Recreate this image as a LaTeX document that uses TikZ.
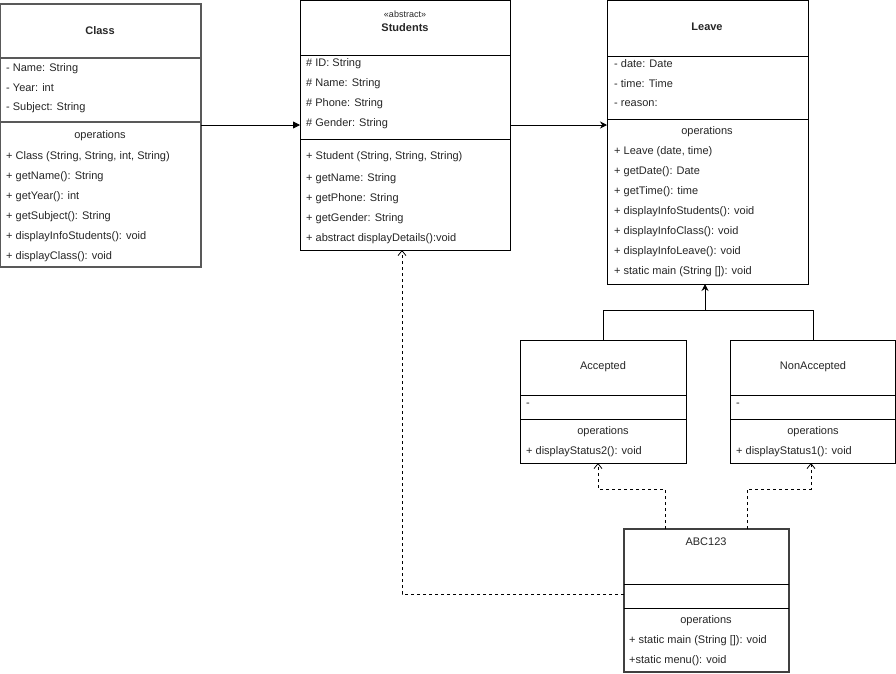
\documentclass[tikz,border=0pt]{standalone}
\usepackage{fontspec}
\setmainfont{Liberation Sans}
\usetikzlibrary{arrows.meta}
\begin{document}
\begin{tikzpicture}[x=1pt,y=-1pt,
  box/.style={draw=black,line width=0.8pt,fill=white},
  t/.style={anchor=west,inner sep=0pt,font=\fontsize{11}{13}\selectfont,text=black!85},
  c/.style={anchor=center,inner sep=0pt,font=\fontsize{11}{13}\selectfont,text=black!85},
  b/.style={c,font=\fontsize{11}{13}\selectfont\bfseries},
  ln/.style={line width=0.8pt,black},
  dsh/.style={ln,dash pattern=on 3pt off 3pt}]
\useasboundingbox (0,0) rectangle (896,673);
% Class
\draw[box,draw=black!65,line width=1.2pt] (0.6,4) rectangle (201,267);
\draw[draw=black!65,line width=1.2pt] (0.6,58)--(201,58) (0.6,122)--(201,122);
\node[b] (cT) at (100,31) {Class};
\node[t] (c1) at (6,69) {- Name: String};
\node[t] (c2) at (6,88) {- Year: int};
\node[t] (c3) at (6,108) {- Subject: String};
\node[c] (cO) at (100,136) {operations};
\foreach \y/\s [count=\i] in {157/{+ Class (String, String, int, String)},177/{+ getName(): String},197/{+ getYear(): int},217/{+ getSubject(): String},237/{+ displayInfoStudents(): void},257/{+ displayClass(): void}}
  \node[t] (co\i) at (6,\y) {\s};
\coordinate (cR) at (201,125);
% Students
\draw[box] (300,0.6) rectangle (510,250);
\draw[ln] (300,55)--(510,55) (300,139)--(510,139);
\node[c,font=\fontsize{9}{11}\selectfont] (sS) at (405,14) {<<abstract>>};
\node[b] (sT) at (405,28) {Students};
\foreach \y/\s [count=\i] in {64/{\# ID: String},84/{\# Name: String},104/{\# Phone: String},124/{\# Gender: String},157/{+ Student (String, String, String)},179/{+ getName: String},199/{+ getPhone: String},219/{+ getGender: String},239/{+ abstract displayDetails():void}}
  \node[t] (s\i) at (306,\y) {\s};
\coordinate (sL) at (300,125);
\coordinate (sR) at (510,125);
\coordinate (sB) at (402,250);
% Leave
\draw[box] (607,0.6) rectangle (808,284);
\draw[ln] (607,56)--(808,56) (607,119)--(808,119);
\node[b] (lT) at (707,27) {Leave};
\node[c] (lO) at (707,132) {operations};
\foreach \y/\s [count=\i] in {64/{- date: Date},84/{- time: Time},104/{- reason:},152/{+ Leave (date, time)},172/{+ getDate(): Date},192/{+ getTime(): time},212/{+ displayInfoStudents(): void},232/{+ displayInfoClass(): void},252/{+ displayInfoLeave(): void},272/{+ static main (String []): void}}
  \node[t] (l\i) at (614,\y) {\s};
\coordinate (lL) at (607,125);
\coordinate (lB) at (705,284);
% Accepted
\draw[box] (520,340) rectangle (686,463);
\draw[ln] (520,395)--(686,395) (520,419)--(686,419);
\node[c] (aT) at (603,367) {Accepted};
\node[t] (a1) at (526,405) {-};
\node[c] (aO) at (603,432) {operations};
\node[t] (a2) at (526,452) {+ displayStatus2(): void};
% NonAccepted
\draw[box] (730,340) rectangle (895.4,463);
\draw[ln] (730,395)--(895.4,395) (730,419)--(895.4,419);
\node[c] (nT) at (813,367) {NonAccepted};
\node[t] (n1) at (736,405) {-};
\node[c] (nO) at (813,432) {operations};
\node[t] (n2) at (736,452) {+ displayStatus1(): void};
% ABC123
\draw[box,draw=black!75,line width=1.1pt] (624,529) rectangle (789,672);
\draw[ln] (624,584)--(789,584) (624,608)--(789,608);
\node[c] (xT) at (706,542) {ABC123};
\node[c] (xO) at (706,621) {operations};
\node[t] (x1) at (629,641) {+ static main (String []): void};
\node[t] (x2) at (629,661) {+static menu(): void};
% connectors
\draw[ln,-{Triangle[length=7pt,width=7pt]}] (cR) -- (sL);
\draw[ln,-{Stealth[length=7pt,width=7pt]}] (sR) -- (lL);
\draw[ln] (603,340) |- (813,310) -- (813,340);
\draw[ln,-{Stealth[length=7pt,width=7pt]}] (705,310) -- (lB);
\draw[dsh,-{Straight Barb[length=5pt,width=8pt]}] (665,529) |- (598,489) -- (598,463);
\draw[dsh,-{Straight Barb[length=5pt,width=8pt]}] (747,529) |- (811,489) -- (811,463);
\draw[dsh,-{Straight Barb[length=5pt,width=8pt]}] (624,594) -| (sB);
\end{tikzpicture}
\end{document}
